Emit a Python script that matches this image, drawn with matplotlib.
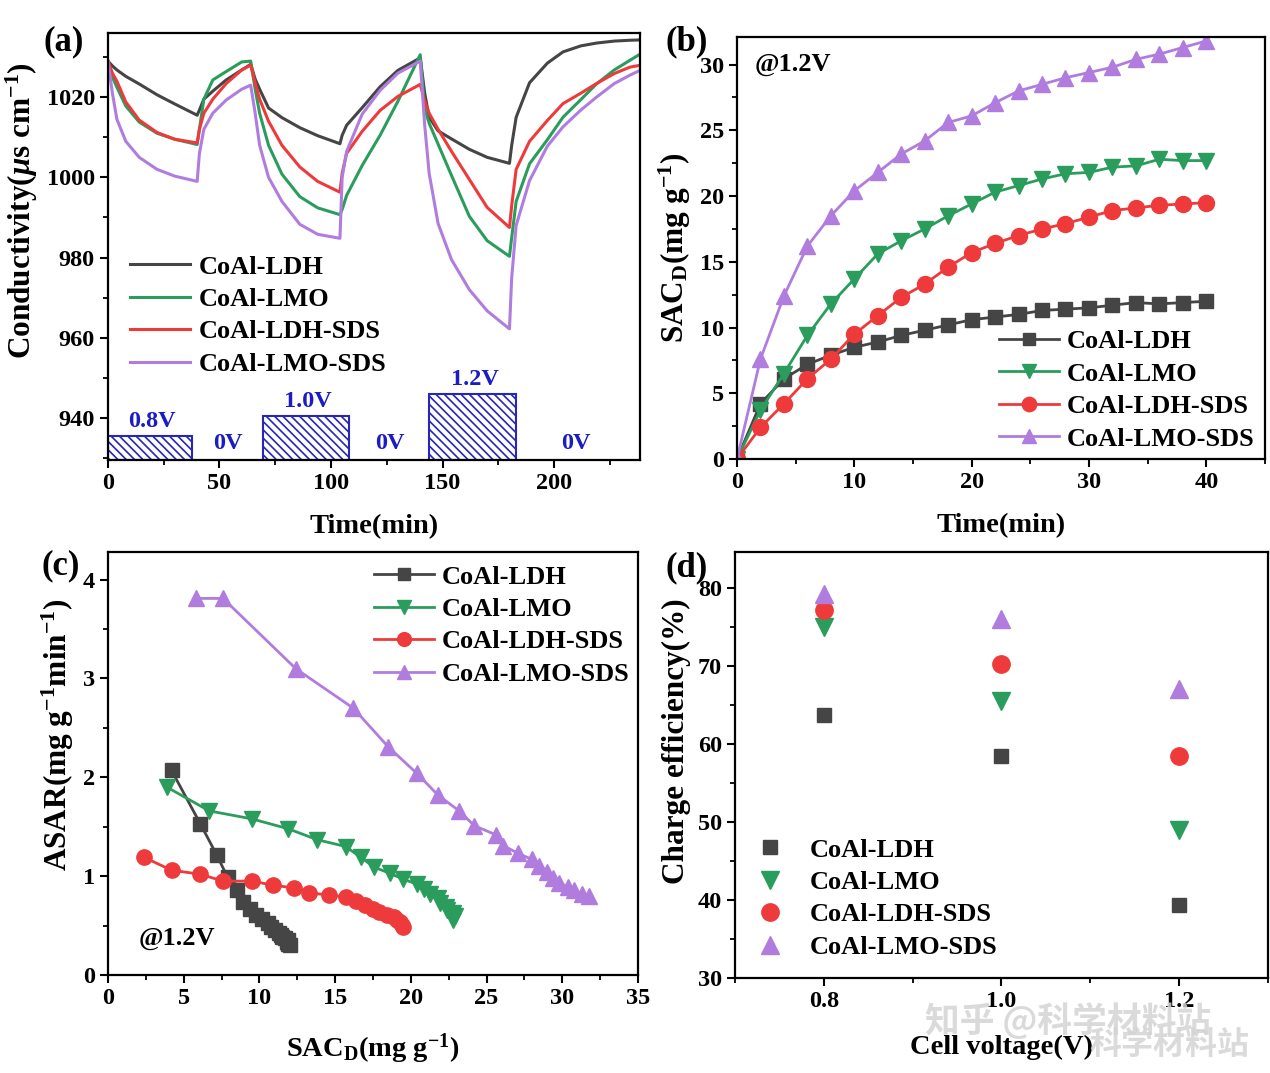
import matplotlib
matplotlib.use('Agg')
import matplotlib.pyplot as plt
from matplotlib.ticker import MultipleLocator

plt.rcParams['font.family'] = ['Liberation Serif', 'DejaVu Serif']
plt.rcParams['font.weight'] = 'bold'
plt.rcParams['axes.labelweight'] = 'bold'
plt.rcParams['mathtext.fontset'] = 'custom'
plt.rcParams['mathtext.rm'] = 'Liberation Serif:bold'
plt.rcParams['mathtext.it'] = 'Liberation Serif:italic:bold'
plt.rcParams['mathtext.bf'] = 'Liberation Serif:bold'
plt.rcParams['hatch.linewidth'] = 1.2

names = ['CoAl-LDH', 'CoAl-LMO', 'CoAl-LDH-SDS', 'CoAl-LMO-SDS']
colors = ['#454545', '#2a9d5c', '#ee3a3a', '#b07ddf']
markers = ['s', 'v', 'o', '^']

# (a) conductivity vs time
time_a = [0, 2, 4, 8, 14, 22, 30, 40, 41, 43, 47, 53, 60, 64, 66, 68, 72, 78, 86, 94,
          104, 105, 107, 114, 122, 130, 140, 142, 144, 148, 154, 162, 170, 180, 181, 183,
          189, 197, 204, 212, 219, 227, 234, 239]
cond_ldh = [1029, 1027.8, 1026.8, 1025.2, 1023.3, 1020.6, 1018.3, 1015.5, 1016.8, 1019.5,
            1021.5, 1024.3, 1026.8, 1028.2, 1024.5, 1022, 1017.3, 1014.9, 1012.4, 1010.4,
            1008.4, 1010.5, 1013, 1017.4, 1022.6, 1026.7, 1029.8, 1021, 1015, 1011.6,
            1009.6, 1007, 1005, 1003.5, 1008, 1015, 1023.6, 1028.5, 1031.3, 1032.8,
            1033.5, 1034, 1034.2, 1034.3]
cond_lmo = [1029, 1025, 1022.5, 1017.8, 1013.8, 1011, 1009.5, 1008.2, 1012, 1019.5,
            1024.3, 1026.4, 1028.8, 1029, 1022, 1016, 1008, 1000.8, 995.2, 992.4,
            990.7, 992, 995.5, 1003, 1010.5, 1019, 1030.6, 1017, 1013.5, 1008.3,
            1000.5, 990.3, 984.2, 980.3, 985, 994, 1003.4, 1009.4, 1015, 1019.4,
            1023.3, 1026.8, 1029.2, 1030.9]
cond_ldh_sds = [1029, 1026, 1024, 1018.8, 1014.3, 1011.2, 1009.5, 1008.6, 1012, 1016,
                1019.5, 1023.4, 1026.8, 1028, 1023.5, 1019.5, 1014, 1008, 1002.6, 999,
                996.3, 1001, 1006, 1011.5, 1016.7, 1020.2, 1023.2, 1019, 1016, 1012,
                1006.5, 999.5, 992.5, 987.5, 993, 1002, 1009, 1014.2, 1018.4, 1021,
                1023.4, 1025.9, 1027.5, 1028]
cond_lmo_sds = [1029, 1021, 1014.5, 1009, 1005, 1002, 1000.3, 999, 1006, 1012,
                1016, 1019.3, 1022, 1023, 1016, 1008, 1000, 994, 988.3, 985.8,
                984.8, 1000, 1006.5, 1015.8, 1021.7, 1026, 1029, 1013, 1001, 988.5,
                979.5, 972, 966.7, 962.2, 975, 988, 999.2, 1007.8, 1012.6, 1016.8,
                1020, 1023.4, 1025.5, 1026.8]
cond_series = [cond_ldh, cond_lmo, cond_ldh_sds, cond_lmo_sds]

bar_start = [0, 69.5, 144]
bar_end = [37.5, 108, 183]
bar_top = [935.5, 940.5, 946]
bar_labels = ['0.8V', '1.0V', '1.2V']
off_x = [53.8, 126.5, 209.9]

# (b) SAC_D vs time at 1.2 V
time_b = [0, 2, 4, 6, 8, 10, 12, 14, 16, 18, 20, 22, 24, 26, 28, 30, 32, 34, 36, 38, 40]
sac_ldh = [0, 4.2, 6.1, 7.2, 7.9, 8.5, 8.9, 9.4, 9.8, 10.2, 10.6, 10.8, 11.0, 11.3, 11.4,
           11.5, 11.7, 11.9, 11.8, 11.9, 12.0]
sac_lmo = [0, 3.7, 6.5, 9.4, 11.8, 13.7, 15.6, 16.6, 17.5, 18.5, 19.4, 20.3, 20.8, 21.3,
           21.7, 21.8, 22.2, 22.3, 22.8, 22.7, 22.7]
sac_ldh_sds = [0, 2.4, 4.2, 6.1, 7.6, 9.5, 10.9, 12.3, 13.3, 14.6, 15.7, 16.4, 17.0, 17.5,
               17.9, 18.4, 18.9, 19.1, 19.3, 19.4, 19.5]
sac_lmo_sds = [0, 7.6, 12.4, 16.2, 18.5, 20.4, 21.8, 23.2, 24.2, 25.6, 26.1, 27.1, 28.0,
               28.5, 29.0, 29.4, 29.8, 30.4, 30.8, 31.3, 31.8]
sac_series = [sac_ldh, sac_lmo, sac_ldh_sds, sac_lmo_sds]

# (c) ASAR vs SAC_D
c_x_ldh = [4.2, 6.1, 7.2, 7.9, 8.5, 8.9, 9.4, 9.8, 10.2, 10.6, 10.8, 11.0, 11.3, 11.4,
           11.5, 11.7, 11.9, 11.8, 11.9, 12.0]
c_y_ldh = [2.07, 1.53, 1.21, 0.99, 0.86, 0.74, 0.67, 0.61, 0.57, 0.53, 0.49, 0.46, 0.43,
           0.41, 0.38, 0.37, 0.35, 0.33, 0.31, 0.30]
c_x_lmo = [3.9, 6.7, 9.5, 11.9, 13.8, 15.7, 16.7, 17.6, 18.6, 19.5, 20.4, 20.9, 21.3,
           21.8, 21.9, 22.3, 22.4, 22.8, 22.9, 22.8]
c_y_lmo = [1.90, 1.66, 1.58, 1.48, 1.37, 1.30, 1.19, 1.09, 1.03, 0.97, 0.92, 0.87, 0.82,
           0.78, 0.73, 0.69, 0.66, 0.63, 0.60, 0.56]
c_x_ldh_sds = [2.4, 4.2, 6.1, 7.6, 9.5, 10.9, 12.3, 13.3, 14.6, 15.7, 16.4, 17.0, 17.5,
               17.9, 18.4, 18.9, 19.1, 19.3, 19.4, 19.5]
c_y_ldh_sds = [1.19, 1.06, 1.02, 0.95, 0.95, 0.91, 0.88, 0.83, 0.81, 0.79, 0.75, 0.71,
               0.67, 0.64, 0.61, 0.59, 0.56, 0.54, 0.51, 0.49]
c_x_lmo_sds = [5.8, 7.6, 12.4, 16.2, 18.5, 20.4, 21.8, 23.2, 24.2, 25.6, 26.1, 27.1, 28.0,
               28.5, 29.0, 29.4, 29.8, 30.4, 30.8, 31.3, 31.8]
c_y_lmo_sds = [3.81, 3.81, 3.10, 2.70, 2.31, 2.04, 1.82, 1.66, 1.51, 1.42, 1.31, 1.23,
               1.17, 1.10, 1.04, 0.98, 0.93, 0.89, 0.86, 0.82, 0.80]
c_x = [c_x_ldh, c_x_lmo, c_x_ldh_sds, c_x_lmo_sds]
c_y = [c_y_ldh, c_y_lmo, c_y_ldh_sds, c_y_lmo_sds]

# (d) charge efficiency vs cell voltage
voltage = [0.8, 1.0, 1.2]
eff_ldh = [63.7, 58.4, 39.4]
eff_lmo = [75.0, 65.5, 49.0]
eff_ldh_sds = [77.1, 70.3, 58.4]
eff_lmo_sds = [79.2, 76.0, 67.1]
eff_series = [eff_ldh, eff_lmo, eff_ldh_sds, eff_lmo_sds]

TICK = 17.5
XLAB = 20.5
YLAB = 22.5
LEG = 19


def style_axes(ax, xmaj, xmin, ymaj, ymin):
    for sp in ax.spines.values():
        sp.set_linewidth(1.6)
    ax.xaxis.set_major_locator(MultipleLocator(xmaj))
    ax.xaxis.set_minor_locator(MultipleLocator(xmin))
    ax.yaxis.set_major_locator(MultipleLocator(ymaj))
    ax.yaxis.set_minor_locator(MultipleLocator(ymin))
    ax.tick_params(which='major', direction='out', length=6, width=1.5, labelsize=TICK)
    ax.tick_params(which='minor', direction='out', length=3.5, width=1.3)
    ax.tick_params(top=False, right=False, which='both')


leg_kw = dict(frameon=False, fontsize=LEG, borderpad=0, borderaxespad=0,
              labelspacing=0.34, handletextpad=0.3)

fig = plt.figure(figsize=(12.7, 10.73), dpi=100)
ax_a = fig.add_axes([0.0850, 0.5713, 0.4189, 0.3979])
ax_b = fig.add_axes([0.5803, 0.5722, 0.4157, 0.3933])
ax_c = fig.add_axes([0.0850, 0.0913, 0.4173, 0.3943])
ax_d = fig.add_axes([0.5787, 0.0885, 0.4197, 0.3971])

# ---- (a)
for vals, name, col in zip(cond_series, names, colors):
    ax_a.plot(time_a, vals, color=col, lw=2.2, label=name)
ybot = 929.5
for s, e, top, lab in zip(bar_start, bar_end, bar_top, bar_labels):
    ax_a.bar(s, top - ybot, width=e - s, bottom=ybot, align='edge', color='white',
             edgecolor='#2626b8', hatch='\\\\\\\\', lw=1.5, zorder=1)
    ax_a.text((s + e) / 2 + 1, top + 1.0, lab, color='#1c1cc4', fontsize=17.5,
              ha='center', va='bottom')
for x in off_x:
    ax_a.text(x, 933.5, '0V', color='#1c1cc4', fontsize=17.5, ha='center', va='center')
ax_a.set_xlim(0, 238.5)
ax_a.set_ylim(ybot, 1036)
style_axes(ax_a, 50, 25, 20, 10)
ax_a.set_xlabel('Time(min)', fontsize=XLAB, labelpad=14)
ax_a.set_ylabel(r'Conductivity($\mu$s cm$^{-1}$)', fontsize=YLAB, labelpad=5)
ax_a.yaxis.label.set_y(0.585)
ax_a.legend(loc='upper left', bbox_to_anchor=(0.041, 0.480), handlelength=2.3, **leg_kw)

# ---- (b)
for vals, name, col, m in zip(sac_series, names, colors, markers):
    ms = 10 if m == 's' else 11.5
    ax_b.plot(time_b, vals, color=col, lw=2, marker=m, ms=ms, label=name)
ax_b.set_xlim(0, 45)
ax_b.set_ylim(0, 32.1)
style_axes(ax_b, 10, 5, 5, 2.5)
ax_b.set_xlabel('Time(min)', fontsize=XLAB, labelpad=14)
ax_b.set_ylabel(r'SAC$_{\rm D}$(mg g$^{-1}$)', fontsize=YLAB, labelpad=5)
ax_b.text(0.034, 0.936, '@1.2V', transform=ax_b.transAxes, fontsize=19, va='center')
ax_b.legend(loc='lower right', bbox_to_anchor=(0.981, 0.02), handlelength=2.3,
            markerscale=0.9, **leg_kw)

# ---- (c)
for xs, ys, name, col, m in zip(c_x, c_y, names, colors, markers):
    ms = 9.5 if m == 's' else 11
    ax_c.plot(xs, ys, color=col, lw=2, marker=m, ms=ms, label=name)
ax_c.set_xlim(0, 35)
ax_c.set_ylim(0, 4.28)
style_axes(ax_c, 5, 2.5, 1, 0.5)
ax_c.set_xlabel(r'SAC$_{\rm D}$(mg g$^{-1}$)', fontsize=XLAB, labelpad=16)
ax_c.set_ylabel(r'ASAR(mg g$^{-1}$min$^{-1}$)', fontsize=YLAB, labelpad=5)
ax_c.yaxis.label.set_y(0.567)
ax_c.text(0.057, 0.087, '@1.2V', transform=ax_c.transAxes, fontsize=19, va='center')
ax_c.legend(loc='upper right', bbox_to_anchor=(0.985, 0.969), handlelength=2.3,
            markerscale=0.9, **leg_kw)

# ---- (d)
for vals, name, col, m in zip(eff_series, names, colors, markers):
    ms = 10 if m == 's' else 12.5
    ax_d.plot(voltage, vals, ls='none', color=col, marker=m, ms=ms, label=name)
ax_d.set_xlim(0.7, 1.3)
ax_d.set_ylim(30, 84.6)
style_axes(ax_d, 0.2, 0.1, 10, 5)
ax_d.set_xticks([0.8, 1.0, 1.2])
ax_d.set_xlabel('Cell voltage(V)', fontsize=XLAB, labelpad=16)
ax_d.set_ylabel('Charge efficiency(%)', fontsize=YLAB, labelpad=5)
ax_d.yaxis.label.set_y(0.556)
leg_d = dict(leg_kw)
leg_d['handletextpad'] = 1.0
ax_d.legend(loc='lower left', bbox_to_anchor=(0.041, 0.045), handlelength=1.0, **leg_d)

# panel letters
letter_pos = [(0.034, 0.961), (0.524, 0.961), (0.033, 0.4725), (0.524, 0.4706)]
for (x, y), lab in zip(letter_pos, ['(a)', '(b)', '(c)', '(d)']):
    fig.text(x, y, lab, fontsize=25, ha='left', va='center')

# watermark
fig.text(0.728, 0.049, '知乎 @科学材料站', fontsize=25, color='#d4d4d4', alpha=0.85,
         family=['Noto Sans CJK SC'], va='center')
fig.text(0.858, 0.026, '科学材料站', fontsize=23, color='#d4d4d4', alpha=0.85,
         family=['Noto Sans CJK SC'], va='center')

fig.savefig('out.png', dpi=100)
